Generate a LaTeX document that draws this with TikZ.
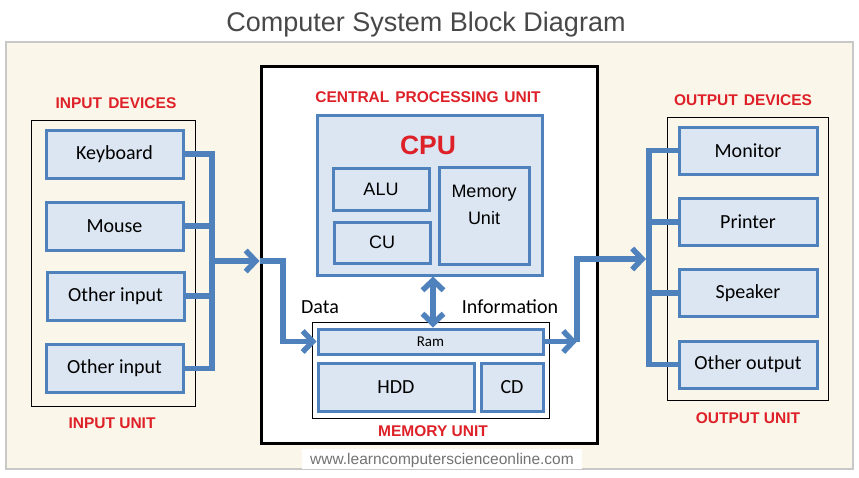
\documentclass[tikz,border=0pt]{standalone}
\usepackage{fontspec}
\setmainfont{Liberation Sans}
\newfontfamily\calibri{Carlito}
\usetikzlibrary{arrows.meta}
\definecolor{panel}{RGB}{250,246,234}
\definecolor{panelline}{RGB}{200,200,200}
\definecolor{bline}{RGB}{79,129,189}
\definecolor{bfill}{RGB}{220,230,242}
\definecolor{conn}{RGB}{79,129,189}
\definecolor{lblred}{RGB}{222,33,40}
\definecolor{titlegray}{RGB}{72,72,72}
\definecolor{wmgray}{RGB}{115,115,115}
\begin{document}
\begin{tikzpicture}[x=1pt,y=-1pt,
  devbox/.style={draw=bline, fill=bfill, line width=3pt, inner sep=0,
    font=\calibri\fontsize{20}{24}\selectfont, text=black},
  cpubox/.style={draw=bline, fill=bfill, line width=3pt, inner sep=0,
    font=\fontsize{18}{22}\selectfont, text=black},
  thinbox/.style={draw=black, line width=1pt, inner sep=0},
  redlbl/.style={text=lblred, inner sep=0, font=\bfseries\fontsize{15.5}{18}\selectfont},
  plain/.style={inner sep=0, text=black, font=\calibri\fontsize{20}{24}\selectfont},
  connline/.style={draw=conn, line width=5.5pt},
  tip/.style={-{Straight Barb[length=10pt,width=21pt]}},
  dtip/.style={{Straight Barb[length=10pt,width=21pt]}-{Straight Barb[length=10pt,width=21pt]}}
]
\useasboundingbox (0,0) rectangle (859,477);
% title
\node[anchor=base, inner sep=0, text=titlegray, font=\fontsize{27}{30}\selectfont] (title) at (426,31.5) {Computer System Block Diagram};
% panel
\path[fill=panel, draw=panelline, line width=1.5pt] (6,42) rectangle (853,469);
\path[fill=white] (302,449) rectangle (582,469);
\node[inner sep=0, text=wmgray, font=\fontsize{15.5}{18}\selectfont] (wm) at (442,460) {www.learncomputerscienceonline.com};

% input unit
\node[thinbox, minimum width=164, minimum height=286] (inbox) at (113,263) {};
\node[redlbl] (indev) at (116,103) {INPUT\hspace{0.12em} DEVICES};
\node[redlbl] (inunit) at (112,423) {INPUT UNIT};
\node[devbox, minimum width=137, minimum height=48] (kb) at (114.5,154) {Keyboard};
\node[devbox, minimum width=137, minimum height=48] (ms) at (114.5,226) {Mouse};
\node[devbox, minimum width=137, minimum height=48] (oia) at (115.5,296) {Other input};
\node[devbox, minimum width=137, minimum height=48] (oib) at (114.5,368.5) {Other input};

% CPU outer
\node[draw=black, fill=white, line width=3pt, inner sep=0, minimum width=336, minimum height=377] (cpuo) at (429,254.5) {};
\node[redlbl] (cpulbl) at (428,97) {CENTRAL\hspace{0.1em} PROCESSING\hspace{0.1em} UNIT};
\node[cpubox, minimum width=225, minimum height=160] (cpu) at (429.5,195) {};
\node[inner sep=0, text=lblred, font=\bfseries\fontsize{26.5}{30}\selectfont] (cputxt) at (428,145) {CPU};
\node[cpubox, minimum width=96, minimum height=42] (alu) at (381,189) {ALU};
\node[cpubox, minimum width=96, minimum height=41] (cu) at (382,242.5) {CU};
\node[cpubox, minimum width=90, minimum height=97] (mu) at (484,215.5) {};
\node[inner sep=0, align=center, font=\fontsize{18}{27}\selectfont] (mutxt) at (484,205) {Memory\\Unit};

% memory unit
\node[thinbox, fill=white, minimum width=237, minimum height=96] (membox) at (430.5,370) {};
\node[devbox, minimum width=225, minimum height=25, font=\calibri\fontsize{15}{18}\selectfont] (ram) at (430.5,341.5) {Ram};
\node[devbox, minimum width=156, minimum height=48] (hdd) at (396,387) {HDD};
\node[devbox, minimum width=62, minimum height=48] (cd) at (512,387) {CD};
\node[redlbl] (memlbl) at (433,431) {MEMORY UNIT};
\node[plain] (data) at (320,307) {Data};
\node[plain] (info) at (510,307) {Information};

% output unit
\node[thinbox, minimum width=161, minimum height=283] (outbox) at (747.5,258.5) {};
\node[redlbl] (outdev) at (743,100) {OUTPUT\hspace{0.12em} DEVICES};
\node[redlbl] (outunit) at (748,418) {OUTPUT UNIT};
\node[devbox, minimum width=138, minimum height=47] (mon) at (748,150.5) {Monitor};
\node[devbox, minimum width=138, minimum height=47] (prn) at (748,222) {Printer};
\node[devbox, minimum width=138, minimum height=47] (spk) at (748,293) {Speaker};
\node[devbox, minimum width=138, minimum height=47] (oo) at (748,364.5) {Other output};

% connectors
\coordinate (ib) at (212,261);
\coordinate (dk) at (283,261);
\coordinate (ok) at (577,259);
\coordinate (ob) at (649,259);
\foreach \n in {kb,ms,oia,oib} \draw[connline] (\n.east) -| (ib);
\draw[connline, tip] (ib) -- (ib -| cpuo.west);
\draw[connline, tip] (ib -| cpuo.west) -- (dk) |- (ram.west);
\draw[connline, tip] (ram.east) -- (ram.east -| ok);
\draw[connline, tip] (ram.east -| ok) -- (ok) -- ([xshift=-3pt]ob);
\foreach \n in {mon,prn,spk,oo} \draw[connline] (\n.west) -| (ob);
\draw[connline, dtip] ([xshift=3.5pt]cpu.south) -- ([xshift=2.5pt]ram.north);
\end{tikzpicture}
\end{document}
